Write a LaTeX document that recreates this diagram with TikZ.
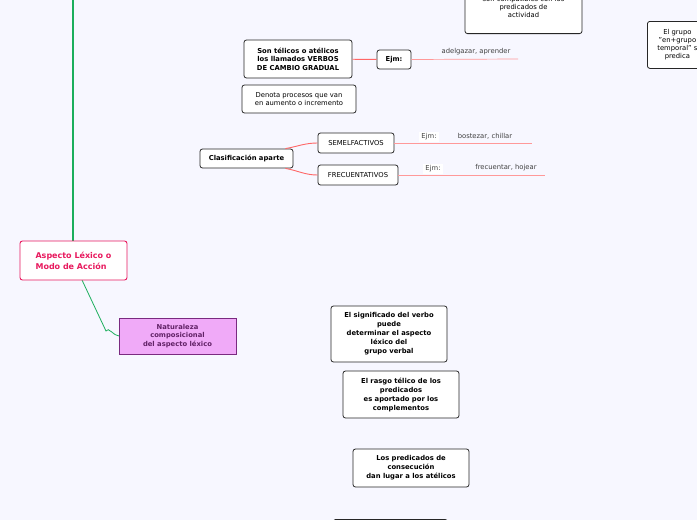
\documentclass[tikz,border=0pt]{standalone}
\usepackage{fontspec}
\setmainfont{DejaVu Sans}
\definecolor{natfill}{HTML}{F0AAF8}
\definecolor{natdraw}{HTML}{7A2A80}
\definecolor{grn}{HTML}{1BAE5C}
\definecolor{aspc}{HTML}{E8195E}
\begin{document}
\begin{tikzpicture}[x=1pt,y=-1pt,
  bx/.style={draw=black!85,line width=0.8pt,rounded corners=2.5pt,fill=white,align=center,font=\fontsize{6.8}{8}\selectfont,inner sep=0pt},
  rl/.style={draw=red!60!white,line width=0.9pt},
  lbl/.style={font=\fontsize{6.8}{8}\selectfont,text=black!75,inner sep=1pt}]
\useasboundingbox (0,0) rectangle (697,520);
\clip (0,0) rectangle (697,520);
\fill[blue!3!white] (0,0) rectangle (697,520);
% green connectors
\draw[grn,line width=1.6pt] (73,0) -- (73,241);
\draw[grn,line width=0.8pt] (82,280) -- (106,331) to[out=65,in=180] (119,336);
% nodes
\node[bx,minimum width=117pt,minimum height=50pt,anchor=south] (top) at (523.5,34) {\\son compatibles con los\\predicados de\\actividad\\[-1pt]};
\node[bx,minimum width=60pt,minimum height=47pt,anchor=north west] (right) at (647,21) {El grupo\\"en+grupo\\temporal" s\\predica};
\node[bx,font=\fontsize{6.8}{8.5}\selectfont\bfseries,minimum width=108pt,minimum height=38pt] (son) at (298,59) {Son télicos o atélicos\\los llamados VERBOS\\DE CAMBIO GRADUAL};
\node[bx,font=\fontsize{6.8}{8}\selectfont\bfseries,minimum width=34pt,minimum height=19pt] (ejm) at (394,59.5) {Ejm:};
\coordinate (e1) at (518,59);
\draw[rl] (son) -- (ejm);
\draw[red!40!white,line width=0.7pt] (ejm.east) -- (e1);
\node[lbl] (ad) at (476,52) {adelgazar, aprender};
\node[bx,minimum width=114pt,minimum height=28pt] (den) at (299,99) {Denota procesos que van\\en aumento o incremento};
\node[bx,font=\fontsize{6.8}{8}\selectfont\bfseries,minimum width=93pt,minimum height=19pt] (cla) at (246.5,158.5) {Clasificación aparte};
\node[bx,minimum width=76pt,minimum height=20pt] (sem) at (356,143) {SEMELFACTIVOS};
\node[bx,minimum width=80pt,minimum height=20pt] (fre) at (358,175) {FRECUENTATIVOS};
\draw[rl] (cla.north east)++(-8,0) to[out=10,in=180] (sem.west);
\draw[rl] (cla.south east)++(-8,0) to[out=-10,in=180] (fre.west);
\coordinate (s1) at (532,143);
\coordinate (f1) at (545,175);
\draw[red!40!white,line width=0.7pt] (sem.east) -- (s1);
\draw[red!40!white,line width=0.7pt] (fre.east) -- (f1);
\node[lbl,fill=white,inner sep=2pt] (ej2) at (429,137) {Ejm:};
\node[lbl] (bo) at (485,136) {bostezar, chillar};
\node[lbl,fill=white,inner sep=2pt] (ej3) at (433,169) {Ejm:};
\node[lbl] (fh) at (506,168) {frecuentar, hojear};
\node[draw=aspc,line width=0.9pt,rounded corners=2.5pt,fill=white,minimum width=107pt,minimum height=39pt,inner sep=0pt,align=left,text=aspc,font=\fontsize{8}{11}\selectfont\bfseries] (asp) at (73.5,260.5) {Aspecto Léxico o\\Modo de Acción};
\node[draw=natdraw,line width=0.8pt,fill=natfill,minimum width=117pt,minimum height=36pt,inner sep=0pt,align=center,text=natdraw!80!black,font=\fontsize{6.8}{8.3}\selectfont\bfseries] (nat) at (177.5,336) {Naturaleza\\composicional\\del aspecto léxico};
\node[bx,font=\fontsize{6.8}{9}\selectfont\bfseries,minimum width=116pt,minimum height=56pt] (sig) at (389,334) {El significado del verbo\\puede\\determinar el aspecto\\léxico del\\grupo verbal};
\node[bx,font=\fontsize{6.8}{9}\selectfont\bfseries,minimum width=116pt,minimum height=47pt] (ras) at (401,394.5) {El rasgo télico de los\\predicados\\es aportado por los\\complementos};
\node[bx,font=\fontsize{6.8}{9}\selectfont\bfseries,minimum width=116pt,minimum height=38pt] (los) at (411,468) {Los predicados de\\consecución\\dan lugar a los atélicos};
\node[bx,minimum width=114pt,minimum height=20pt,anchor=north west] (bot) at (333,519) {};
\end{tikzpicture}
\end{document}
